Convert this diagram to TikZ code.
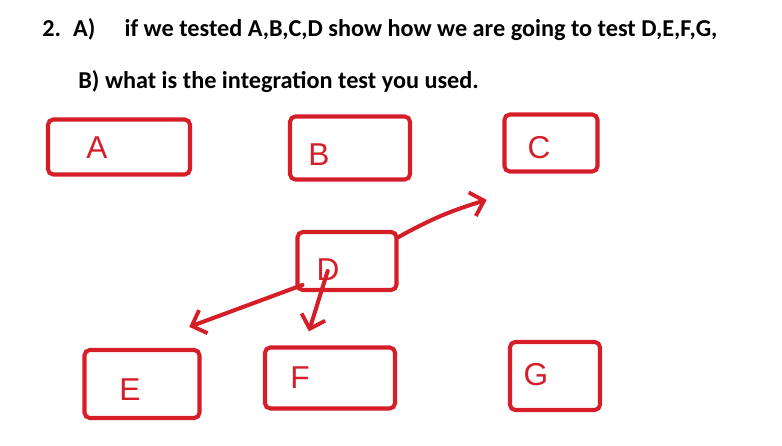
\documentclass[tikz,border=0pt]{standalone}
\usepackage{fontspec}
\setmainfont{Carlito}
\setsansfont{Liberation Sans}
\usetikzlibrary{arrows.meta}
\definecolor{penred}{RGB}{214,30,40}
\tikzset{>/.tip={Straight Barb[length=7pt,width=14pt,line width=2.2pt]},
  unit/.style={draw=penred, line width=2.3pt, rounded corners=3pt, inner sep=0pt},
  lettr/.style={text=penred, font=\sffamily\fontsize{18}{18}\selectfont},
  quest/.style={anchor=west, inner sep=0pt, font=\bfseries\fontsize{13.8}{16}\selectfont},
  link/.style={->, draw=penred, line width=2.3pt, line cap=round}}

\begin{document}
\begin{tikzpicture}
\useasboundingbox (0,0) rectangle (15.64,-8.92);
\node[quest] (q1) at (0.84,-0.6)
  {2.\hspace{0.5em}A)\hspace{1.2em}if we tested A,B,C,D show how we are going to test D,E,F,G,};
\node[quest] (q2) at (1.56,-1.64)
  {B) what is the integration test you used.};
\node[unit, minimum width=2.84cm, minimum height=1.1cm]  (A) at (2.38,-2.94) {};
\node[unit, minimum width=2.4cm,  minimum height=1.26cm] (B) at (7.0,-2.96)  {};
\node[unit, minimum width=1.86cm, minimum height=1.14cm] (C) at (11.02,-2.86) {};
\node[unit, minimum width=1.98cm, minimum height=1.16cm] (D) at (6.94,-5.22) {};
\node[unit, minimum width=2.3cm,  minimum height=1.36cm] (E) at (2.84,-7.68) {};
\node[unit, minimum width=2.6cm,  minimum height=1.22cm] (F) at (6.6,-7.56)  {};
\node[unit, minimum width=1.8cm,  minimum height=1.36cm] (G) at (11.1,-7.52) {};
\node[lettr] (tA) at (1.94,-2.96) {A};
\node[lettr] (tB) at (6.38,-3.1)  {B};
\node[lettr] (tC) at (10.78,-2.96) {C};
\node[lettr] (tD) at (6.56,-5.4)  {D};
\node[lettr] (tE) at (2.6,-7.8)   {E};
\node[lettr] (tF) at (6.0,-7.56)  {F};
\node[lettr] (tG) at (10.72,-7.5) {G};
\draw[link] ([yshift=-4pt]D.north east) to[bend left=6] ([xshift=-9pt,yshift=-15pt]C.south west);
\draw[link] ([xshift=4pt,yshift=4pt]D.south west) -- ([xshift=-7pt,yshift=12pt]E.north east);
\draw[link] ([xshift=-11pt,yshift=12pt]D.south) -- ([xshift=-12pt,yshift=8pt]F.north);
\end{tikzpicture}
\end{document}
